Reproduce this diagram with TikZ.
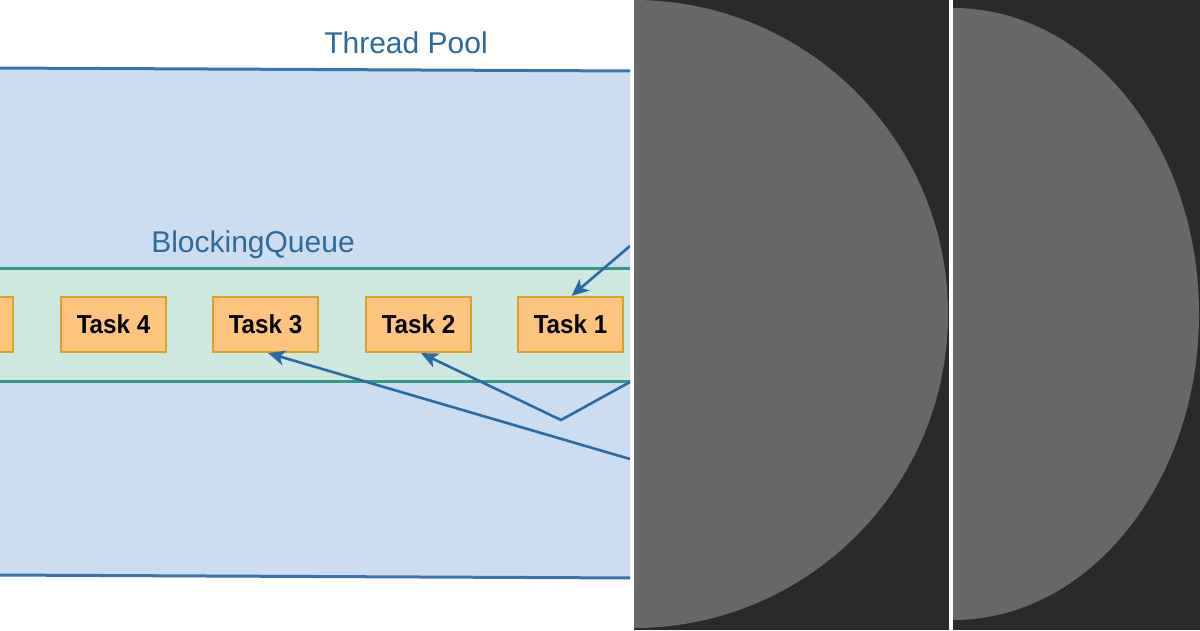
\documentclass[tikz,border=0pt]{standalone}
\usepackage{fontspec}
\setmainfont{Liberation Sans}
\newfontfamily\taskfont[FakeStretch=0.93]{Liberation Sans}
\usetikzlibrary{arrows.meta,calc}
\definecolor{poolfill}{HTML}{CCDDF2}
\definecolor{poolline}{HTML}{3A74AA}
\definecolor{qfill}{HTML}{CDE8DF}
\definecolor{qline}{HTML}{349A86}
\definecolor{taskfill}{HTML}{FFC47E}
\definecolor{taskline}{HTML}{D9A02C}
\definecolor{arrowc}{HTML}{2B6BA3}
\definecolor{labelc}{HTML}{2E6A9C}
\definecolor{darkbg}{HTML}{2A2A2A}
\definecolor{disc}{HTML}{686868}
\begin{document}
\begin{tikzpicture}[x=1pt,y=-1pt,
  taskbox/.style={draw=taskline,fill=taskfill,line width=2.2pt,minimum width=105pt,minimum height=55pt,inner sep=0pt,font=\taskfont\bfseries\fontsize{26}{30}\selectfont},
  titletext/.style={text=labelc,inner sep=0pt,font=\fontsize{30}{36}\selectfont},
  conn/.style={draw=arrowc,line width=2.6pt},
  tip/.style={-{Stealth[length=17pt,width=15pt,inset=4.5pt]}}]
\useasboundingbox (0,0) rectangle (1200,630);
\fill[white] (0,0) rectangle (1200,630);
\begin{scope}
  \clip (0,0) rectangle (630,630);
  % thread pool container
  \fill[poolfill] (-5,68) -- (635,71) -- (635,578) -- (-5,575) -- cycle;
  \draw[poolline,line width=3pt] (-5,68) -- (635,71);
  \draw[poolline,line width=3pt] (-5,575) -- (635,578);
  % blocking queue band
  \fill[qfill] (-5,268) rectangle (635,381);
  \draw[qline,line width=3pt] (-5,268) -- (635,268) (-5,381) -- (635,381);
  % titles
  \node[titletext] (tp) at (406,43) {Thread Pool};
  \node[titletext] (bq) at (253,245) {BlockingQueue};
  % tasks
  \node[taskbox] (t5) at (-39.5,324.5) {};
  \node[taskbox] (t4) at (113.5,324.5) {Task 4};
  \node[taskbox] (t3) at (265.5,324.5) {Task 3};
  \node[taskbox] (t2) at (418.5,324.5) {Task 2};
  \node[taskbox] (t1) at (570.5,324.5) {Task 1};
  % connectors
  \coordinate (a1) at (630,246);
  \coordinate (a2) at (630,382);
  \coordinate (v) at (561,420);
  \coordinate (a3) at (630,459);
  \draw[conn,tip] (a1) -- ([xshift=1pt]t1.north);
  \draw[conn,tip] (a2) -- (v) -- ([xshift=2.5pt]t2.south);
  \draw[conn,tip] (a3) -- ([xshift=2.5pt]t3.south);
\end{scope}
% right dark panel
\fill[darkbg] (634,0) rectangle (1200,630);
\begin{scope}
  \clip (634,0) rectangle (949,630);
  \fill[disc] (634,314) circle [radius=314];
\end{scope}
\fill[white] (949,0) rectangle (953,630);
\begin{scope}
  \clip (953,0) rectangle (1200,630);
  \fill[disc] (953,314) ellipse [x radius=246, y radius=306];
\end{scope}
\end{tikzpicture}
\end{document}
